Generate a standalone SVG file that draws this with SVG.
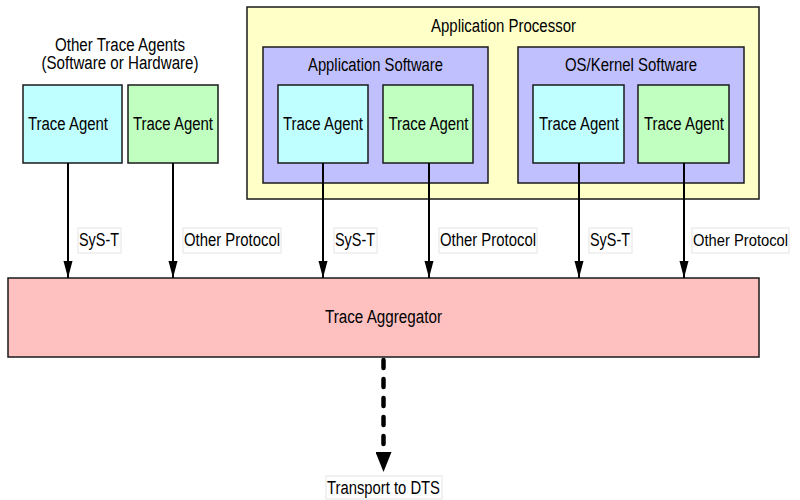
<svg xmlns="http://www.w3.org/2000/svg" width="800" height="500" viewBox="0 0 800 500">
<style>
text{font-family:"Liberation Sans",Arial,sans-serif;font-size:18px;fill:#000;text-anchor:middle}
.box{stroke:#1a1a1a;stroke-width:1.5}
.cy{fill:#C0FFFF}.gr{fill:#C0FFC0}.pu{fill:#C0C0FF}.ye{fill:#FFFFC8}.pk{fill:#FFC0C0}
.lbl{fill:#fff;stroke:#e4e4e4;stroke-width:1}
.ln{stroke:#000;stroke-width:2;fill:none}
.lt{text-anchor:start}
</style>
<defs>
<marker id="ah" markerWidth="17" markerHeight="10" refX="17" refY="5" orient="auto" markerUnits="userSpaceOnUse" viewBox="0 0 17 10">
<path d="M0,0.5 L17,5 L0,9.5 Z" fill="#000"/>
</marker>
<marker id="ahd" markerWidth="20" markerHeight="16" refX="20" refY="8" orient="auto" markerUnits="userSpaceOnUse" viewBox="0 0 20 16">
<path d="M0,0 L20,8 L0,16 Z" fill="#000"/>
</marker>
</defs>

<g id="other-agents-title">
<text x="120" y="51" textLength="130" lengthAdjust="spacingAndGlyphs">Other Trace Agents</text>
<text x="120" y="69" textLength="157" lengthAdjust="spacingAndGlyphs">(Software or Hardware)</text>
</g>

<g id="app-processor">
<rect class="box ye" x="247" y="7" width="512" height="192"/>
<text x="503.5" y="32" textLength="145" lengthAdjust="spacingAndGlyphs">Application Processor</text>
</g>
<g id="app-software">
<rect class="box pu" x="263" y="47" width="225" height="136"/>
<text x="375.5" y="71" textLength="135" lengthAdjust="spacingAndGlyphs">Application Software</text>
</g>
<g id="os-software">
<rect class="box pu" x="518" y="47" width="226" height="136"/>
<text x="631" y="71" textLength="132" lengthAdjust="spacingAndGlyphs">OS/Kernel Software</text>
</g>

<g id="agent1">
<rect class="box cy" x="23" y="85" width="99" height="78"/>
<text x="68" y="130" textLength="80" lengthAdjust="spacingAndGlyphs">Trace Agent</text>
</g>
<g id="agent2">
<rect class="box gr" x="128" y="85" width="90" height="78"/>
<text x="173" y="130" textLength="80" lengthAdjust="spacingAndGlyphs">Trace Agent</text>
</g>
<g id="agent3">
<rect class="box cy" x="278" y="85" width="90" height="78"/>
<text x="323" y="130" textLength="80" lengthAdjust="spacingAndGlyphs">Trace Agent</text>
</g>
<g id="agent4">
<rect class="box gr" x="383" y="85" width="90" height="78"/>
<text x="428.5" y="130" textLength="80" lengthAdjust="spacingAndGlyphs">Trace Agent</text>
</g>
<g id="agent5">
<rect class="box cy" x="533" y="85" width="91" height="78"/>
<text x="579" y="130" textLength="80" lengthAdjust="spacingAndGlyphs">Trace Agent</text>
</g>
<g id="agent6">
<rect class="box gr" x="638" y="85" width="91" height="78"/>
<text x="684" y="130" textLength="80" lengthAdjust="spacingAndGlyphs">Trace Agent</text>
</g>

<g id="aggregator">
<rect class="box pk" x="8" y="278" width="751" height="79"/>
<text x="383.5" y="323" textLength="117" lengthAdjust="spacingAndGlyphs">Trace Aggregator</text>
</g>

<g id="connectors">
<line class="ln" x1="68" y1="163" x2="68" y2="278" marker-end="url(#ah)"/>
<line class="ln" x1="173" y1="163" x2="173" y2="278" marker-end="url(#ah)"/>
<line class="ln" x1="323" y1="163" x2="323" y2="278" marker-end="url(#ah)"/>
<line class="ln" x1="429" y1="163" x2="429" y2="278" marker-end="url(#ah)"/>
<line class="ln" x1="579" y1="163" x2="579" y2="278" marker-end="url(#ah)"/>
<line class="ln" x1="684" y1="163" x2="684" y2="278" marker-end="url(#ah)"/>
<line x1="383.5" y1="360" x2="383.5" y2="472" stroke="#000" stroke-width="4.5" stroke-dasharray="8 11" stroke-linecap="round" marker-end="url(#ahd)"/>

<rect class="lbl" x="78" y="228" width="43" height="25"/>
<text class="lt" x="79" y="246" textLength="40" lengthAdjust="spacingAndGlyphs">SyS-T</text>
<rect class="lbl" x="183" y="228" width="98" height="25"/>
<text class="lt" x="184" y="246" textLength="96" lengthAdjust="spacingAndGlyphs">Other Protocol</text>
<rect class="lbl" x="334" y="228" width="43" height="25"/>
<text class="lt" x="335" y="246" textLength="40" lengthAdjust="spacingAndGlyphs">SyS-T</text>
<rect class="lbl" x="439" y="228" width="98" height="25"/>
<text class="lt" x="440" y="246" textLength="96" lengthAdjust="spacingAndGlyphs">Other Protocol</text>
<rect class="lbl" x="589" y="228" width="43" height="25"/>
<text class="lt" x="590" y="246" textLength="40" lengthAdjust="spacingAndGlyphs">SyS-T</text>
<rect class="lbl" x="692" y="228" width="97" height="25"/>
<text class="lt" x="693" y="246" style="font-size:16px" textLength="95" lengthAdjust="spacingAndGlyphs">Other Protocol</text>
<rect class="lbl" x="326" y="476" width="116" height="23"/>
<text x="383.5" y="494" textLength="113" lengthAdjust="spacingAndGlyphs">Transport to DTS</text>
</g>
</svg>
